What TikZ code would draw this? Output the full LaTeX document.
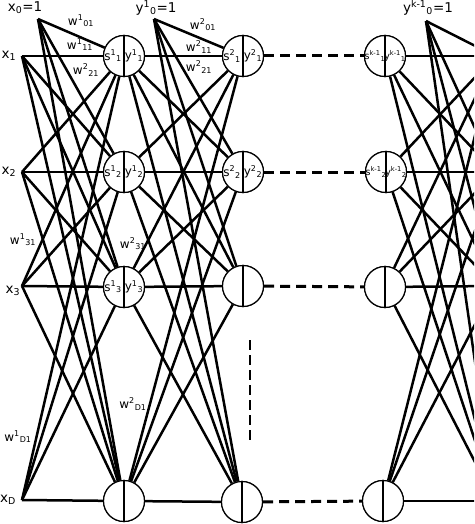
\documentclass[tikz,border=0pt]{standalone}
\usepackage{fontspec}
\setmainfont{DejaVu Sans}
\newcommand{\lbl}[3]{#1\textsuperscript{#2}\textsubscript{#3}}
\begin{document}
\begin{tikzpicture}[x=1pt,y=-1pt,
  conn/.style={line width=2.5pt},
  neuron/.style={circle,draw,fill=white,line width=1.2pt,minimum size=41pt,inner sep=0pt},
  divider/.style={line width=1.7pt},
  dline/.style={line width=3pt,dash pattern=on 10pt off 6pt},
  vline/.style={line width=2.8pt,dash pattern=on 10pt off 5pt},
  wlab/.style={font=\fontsize{12}{14}\selectfont,inner sep=0pt},
  toplab/.style={font=\fontsize{13.5}{15}\selectfont,inner sep=0pt},
  inlab/.style={font=\fontsize{12}{14}\selectfont,inner sep=0pt},
  tinylab/.style={font=\fontsize{9.5}{10}\selectfont,inner sep=0pt}]
\useasboundingbox (0,0) rectangle (474,524);
\clip (0,0) rectangle (474,524);

% input points
\coordinate (x0) at (38,19);
\coordinate (x1) at (22,56);
\coordinate (x2) at (22,172);
\coordinate (x3) at (22,286);
\coordinate (xD) at (22,500);
% bias points
\coordinate (b0) at (154,19);
\coordinate (c0) at (426,21);
% next layer (outside the picture)
\coordinate (d1) at (495,56);
\coordinate (d2) at (495,172);
\coordinate (d3) at (495,286);
\coordinate (d4) at (495,501);

% neurons
\node[neuron] (a1) at (124,56) {};
\node[neuron] (a2) at (124,172) {};
\node[neuron] (a3) at (124,287) {};
\node[neuron] (a4) at (124,501) {};
\node[neuron] (b1) at (243,56) {};
\node[neuron] (b2) at (243,172) {};
\node[neuron] (b3) at (243,286) {};
\node[neuron] (b4) at (242,502) {};
\node[neuron] (c1) at (385,56) {};
\node[neuron] (c2) at (386,172) {};
\node[neuron] (c3) at (385,287) {};
\node[neuron] (c4) at (383,501) {};

% connections
\foreach \s in {x0,x1,x2,x3,xD}{
  \foreach \t in {a1,a2,a3,a4}{
    \draw[conn] (\s) -- (\t);
  }
}
\foreach \s in {b0,a1,a2,a3,a4}{
  \foreach \t in {b1,b2,b3,b4}{
    \draw[conn] (\s) -- (\t);
  }
}
\foreach \s in {c0,c1,c2,c3,c4}{
  \foreach \t in {d1,d2,d3,d4}{
    \draw[conn] (\s) -- (\t);
  }
}
% dashed continuation
\draw[dline] (b1) -- (c1);
\draw[dline] (b2) -- (c2);
\draw[dline] (b3) -- (c3);
\draw[dline] (b4) -- (c4);
\coordinate (v1) at (250,340);
\coordinate (v2) at (250,440);
\draw[vline] (v1) -- (v2);

% redraw neurons on top with dividers
\foreach \n in {a1,a2,a3,a4,b1,b2,b3,b4,c1,c2,c3,c4}{
  \node[neuron] at (\n) {};
  \draw[divider] (\n.north) -- (\n.south);
}

% neuron labels
\node[inlab] at ([xshift=-11pt]a1) {\lbl{s}{1}{1}};
\node[inlab] at ([xshift=10pt]a1) {\lbl{y}{1}{1}};
\node[inlab] at ([xshift=-11pt]a2) {\lbl{s}{1}{2}};
\node[inlab] at ([xshift=10pt]a2) {\lbl{y}{1}{2}};
\node[inlab] at ([xshift=-11pt]a3) {\lbl{s}{1}{3}};
\node[inlab] at ([xshift=10pt]a3) {\lbl{y}{1}{3}};
\node[inlab] at ([xshift=-11pt]b1) {\lbl{s}{2}{1}};
\node[inlab] at ([xshift=10pt]b1) {\lbl{y}{2}{1}};
\node[inlab] at ([xshift=-11pt]b2) {\lbl{s}{2}{2}};
\node[inlab] at ([xshift=10pt]b2) {\lbl{y}{2}{2}};
\node[tinylab] at ([xshift=-10pt]c1) {\lbl{s}{k-1}{1}};
\node[tinylab] at ([xshift=10pt]c1) {\lbl{y}{k-1}{1}};
\node[tinylab] at ([xshift=-10pt]c2) {\lbl{s}{k-1}{2}};
\node[tinylab] at ([xshift=10pt]c2) {\lbl{y}{k-1}{2}};

% input labels
\node[toplab] (lx0) at (25,8) {x\textsubscript{0}=1};
\node[toplab] (ly0) at (156,8) {\lbl{y}{1}{0}=1};
\node[toplab] (lyk) at (428,8) {\lbl{y}{k-1}{0}=1};
\node[toplab] (lx1) at (9,56) {x\textsubscript{1}};
\node[toplab] (lx2) at (9,172) {x\textsubscript{2}};
\node[toplab] (lx3) at (13,291) {x\textsubscript{3}};
\node[toplab] (lxD) at (8,500) {x\textsubscript{D}};

% weight labels
\node[wlab] at (81,21) {\lbl{w}{1}{01}};
\node[wlab] at (80,45) {\lbl{w}{1}{11}};
\node[wlab] at (86,70) {\lbl{w}{2}{21}};
\node[wlab] at (203,25) {\lbl{w}{2}{01}};
\node[wlab] at (199,47) {\lbl{w}{2}{11}};
\node[wlab] at (199,67) {\lbl{w}{2}{21}};
\node[wlab] at (23,240) {\lbl{w}{1}{31}};
\node[wlab] at (133,244) {\lbl{w}{2}{31}};
\node[wlab] at (133,404) {\lbl{w}{2}{D1}};
\node[wlab] at (18,437) {\lbl{w}{1}{D1}};
\end{tikzpicture}
\end{document}
